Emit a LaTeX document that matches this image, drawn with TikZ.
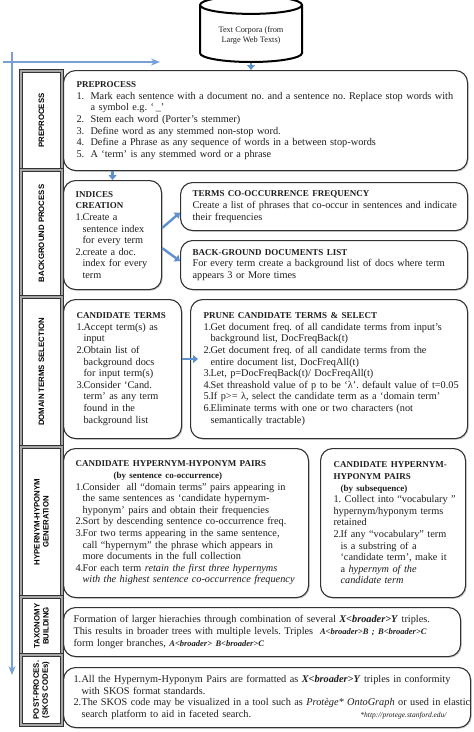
\documentclass[tikz,border=0pt]{standalone}
\usepackage{fontspec}
\setmainfont{Liberation Serif}
\setsansfont{Liberation Sans}
\usetikzlibrary{positioning,calc,arrows.meta,shapes.geometric,shadows}
\definecolor{cFlow}{RGB}{96,144,206}
\definecolor{cTime}{RGB}{118,160,214}
\definecolor{cEdge}{RGB}{50,50,50}
\definecolor{cText}{RGB}{30,30,30}

\newcommand{\stagehead}[1]{{\fontsize{9}{11.6}\selectfont\bfseries #1}}
\newcommand{\stepno}[2][7pt]{\makebox[#1][l]{#2}}
\newcommand{\stepgap}[1][7pt]{\hspace*{#1}}
\newcommand{\skosrel}[1]{\textbf{\textit{#1}}}
\frenchspacing

\begin{document}
\begin{tikzpicture}[
  x=1pt, y=1pt,
  font=\fontsize{10.3}{11.6}\selectfont,
  panel/.style = {draw=cEdge, line width=1.1pt, rounded corners=12pt, fill=white,
                  align=left, text=cText, anchor=north west, inner ysep=2pt,
                  drop shadow={shadow xshift=1.2pt, shadow yshift=-1.2pt, opacity=.35}},
  stage/.style = {draw=black!80, double=black!35, double distance=1.6pt, line width=.8pt,
                  rotate=90, minimum height=41pt, inner sep=1pt, align=center,
                  font=\sffamily\bfseries\fontsize{7.8}{9}\selectfont},
  link/.style  = {draw=cFlow, line width=2.4pt, -{Triangle[length=5pt, width=8pt]}},
  time/.style  = {draw=cTime, line width=2pt, -{Stealth[length=9pt, width=7pt]}}
]
\useasboundingbox (0,0) rectangle (474,-732);

% ------------------------------------------------------------- the source --
\node[draw, line width=2pt, cylinder, shape border rotate=90, aspect=0.25,
      minimum width=102pt, minimum height=66pt, align=center, text=cText,
      anchor=south, font=\fontsize{8.3}{10}\selectfont]  (corpus) at (251,-63) {Text Corpora (from\\Large Web Texts)};

% ------------------------------------------------------------ the timeline --
\coordinate (tA) at (3,-62);
\coordinate (tB) at (160,-62);
\coordinate (tC) at (12,-52);
\coordinate (tD) at (12,-675);
\draw[time] (tA) -- (tB);
\draw[time] (tC) -- (tD);

% ------------------------------------------------------------ stage labels --
\node[stage, minimum width=99pt]  (sPre)  at (41.5,-120.5) {PREPROCESS};
\node[stage, minimum width=127pt] (sBack) at (41.5,-233.5) {BACKGROUND PROCESS};
\node[stage, minimum width=150pt] (sDom)  at (41.5,-372)   {DOMAIN TERMS SELECTION};
\node[stage, minimum width=150pt] (sHyp)  at (41.5,-522)   {HYPERNYM-HYPONYM\\GENERATION};
\node[stage, minimum width=58pt]  (sTax)  at (41.5,-626)   {TAXONOMY\\BUILDING};
\node[stage, minimum width=70pt]  (sPost) at (41.5,-690)   {POST-PROCES.\\(SKOS CODEs)};

% ------------------------------------------------------------------ panels --
\node[panel, minimum width=404pt, minimum height=100pt, text width=378pt,
      inner xsep=13pt] (pre) at (63,-70) {%
  \stagehead{PREPROCESS}\\
  \stepno[14pt]{1.}Mark each sentence with a document no. and a sentence no. Replace stop words with\\
  \stepgap[14pt]a symbol e.g. `\,\_'\\
  \stepno[14pt]{2.}Stem each word (Porter's stemmer)\\
  \stepno[14pt]{3.}Define word as any stemmed non-stop word.\\
  \stepno[14pt]{4.}Define a Phrase as any sequence of words in a between stop-words\\
  \stepno[14pt]{5.}A `term' is any stemmed word or a phrase};

\node[panel, minimum width=98pt, minimum height=109pt, text width=74pt,
      inner xsep=12pt] (idx) at (63,-180) {%
  \stagehead{INDICES}\\
  \stagehead{CREATION}\\
  \stepno{1.}Create a\\
  \stepgap sentence index\\
  \stepgap for every term\\
  \stepno{2.}create a doc.\\
  \stepgap index for every\\
  \stepgap term};

\node[panel, minimum width=287pt, minimum height=48pt, text width=263pt,
      inner xsep=12pt] (cooc) at (180,-182) {%
  \stagehead{TERMS CO-OCCURRENCE FREQUENCY}\\
  \mbox{Create a list of phrases that co-occur in sentences and indicate}\\
  their frequencies};

\node[panel, minimum width=287pt, minimum height=49pt, text width=263pt,
      inner xsep=12pt] (back) at (180,-240) {%
  \stagehead{BACK-GROUND DOCUMENTS LIST}\\
  For every term create a background list of docs where term\\
  appears 3 or More times};

\node[panel, minimum width=118pt, minimum height=139pt, text width=92pt,
      inner xsep=13pt] (cand) at (63,-299) {%
  \stagehead{CANDIDATE TERMS}\\
  \stepno{1.}Accept term(s) as\\
  \stepgap input\\
  \stepno{2.}Obtain list of\\
  \stepgap background docs\\
  \stepgap for input term(s)\\
  \stepno{3.}Consider `Cand.\\
  \stepgap term' as any term\\
  \stepgap found in the\\
  \stepgap background list};

\node[panel, minimum width=277pt, minimum height=139pt, text width=251pt,
      inner xsep=13pt] (prune) at (190,-299) {%
  \stagehead{PRUNE CANDIDATE TERMS \& SELECT}\\
  \stepno{1.}Get document freq. of all candidate terms from input's\\
  \stepgap background list, DocFreqBack(t)\\
  \stepno{2.}Get document freq. of all candidate terms from the\\
  \stepgap entire document list, DocFreqAll(t)\\
  \stepno{3.}Let, p=DocFreqBack(t)/ DocFreqAll(t)\\
  \stepno{4.}\mbox{Set threashold value of p to be `λ'. default value of t=0.05}\\
  \stepno{5.}If p>= λ, select the candidate term as a `domain term'\\
  \stepno{6.}Eliminate terms with one or two characters (not\\
  \stepgap semantically tractable)};

\node[panel, minimum width=245pt, minimum height=149pt, text width=221pt,
      inner xsep=12pt] (hypS) at (63,-448) {%
  \stagehead{CANDIDATE HYPERNYM-HYPONYM PAIRS}\\
  \hspace*{38pt}\stagehead{(by sentence co-occurrence)}\\
  \stepno{1.}Consider\ \ all ``domain terms'' pairs appearing in\\
  \stepgap the same sentences as `candidate hypernym-\\
  \stepgap hyponym' pairs and obtain their frequencies\\
  \stepno{2.}Sort by descending sentence co-occurrence freq.\\
  \stepno{3.}For two terms appearing in the same sentence,\\
  \stepgap call ``hypernym'' the phrase which appears in\\
  \stepgap more documents in the full collection\\
  \stepno{4.}For each term \textit{retain the first three hypernyms}\\
  \stepgap\mbox{\textit{with the highest sentence co-occurrence frequency}}};

\node[panel, minimum width=145pt, minimum height=149pt, text width=119pt,
      inner xsep=13pt] (hypQ) at (320,-448) {%
  \stagehead{CANDIDATE HYPERNYM-}\\
  \stagehead{HYPONYM PAIRS}\\
  \hspace*{7pt}\stagehead{(by subsequence)}\\
  \mbox{1. Collect into ``vocabulary~''}\\
  hypernym/hyponym terms\\
  retained\\
  \stepno{2.}If any ``vocabulary'' term\\
  \stepgap is a substring of a\\
  \stepgap `candidate term', make it\\
  \stepgap a \textit{hypernym of the}\\
  \stepgap\textit{candidate term}};

\node[panel, minimum width=397pt, minimum height=49pt, text width=377pt,
      inner xsep=10pt] (tax) at (63,-607) {%
  Formation of larger hierachies through combination of several \skosrel{X<broader>Y} triples.\\
  This results in broader trees with multiple levels. Triples\ \ {\fontsize{8.5}{11.6}\selectfont\skosrel{A<broader>B ; B<broader>C}}\\
  form longer branches, {\fontsize{8.5}{11.6}\selectfont\skosrel{A<broader> B<broader>C}}};

\node[panel, minimum width=407pt, minimum height=60pt, text width=387pt,
      inner xsep=10pt] (post) at (63,-667) {%
  \stepno[8pt]{1.}All the Hypernym-Hyponym Pairs are formatted as \skosrel{X<broader>Y} triples in conformity\\
  \stepgap[8pt]with SKOS format standards.\\
  \stepno[8pt]{2.}\mbox{The SKOS code may be visualized in a tool such as \textit{Protège* OntoGraph} or used in elastic}\\
  \stepgap[8pt]search platform to aid in faceted search.\hfill{\fontsize{7.5}{9}\selectfont\itshape *http://protege.stanford.edu/}\hspace*{14pt}};

% ------------------------------------------------------------------- links --
\draw[link] (corpus.south) -- (corpus.south |- pre.north);
\draw[link] (pre.south -| idx.north) -- (idx.north);
\draw[link] ([yshift=7pt]idx.east)   -- ([yshift=-6pt]cooc.west);
\draw[link] ([yshift=-13pt]idx.east) -- ([yshift=4pt]back.west);
\draw[link] ([yshift=10pt]cand.east) -- ([xshift=8pt, yshift=10pt]prune.west);

\end{tikzpicture}
\end{document}
